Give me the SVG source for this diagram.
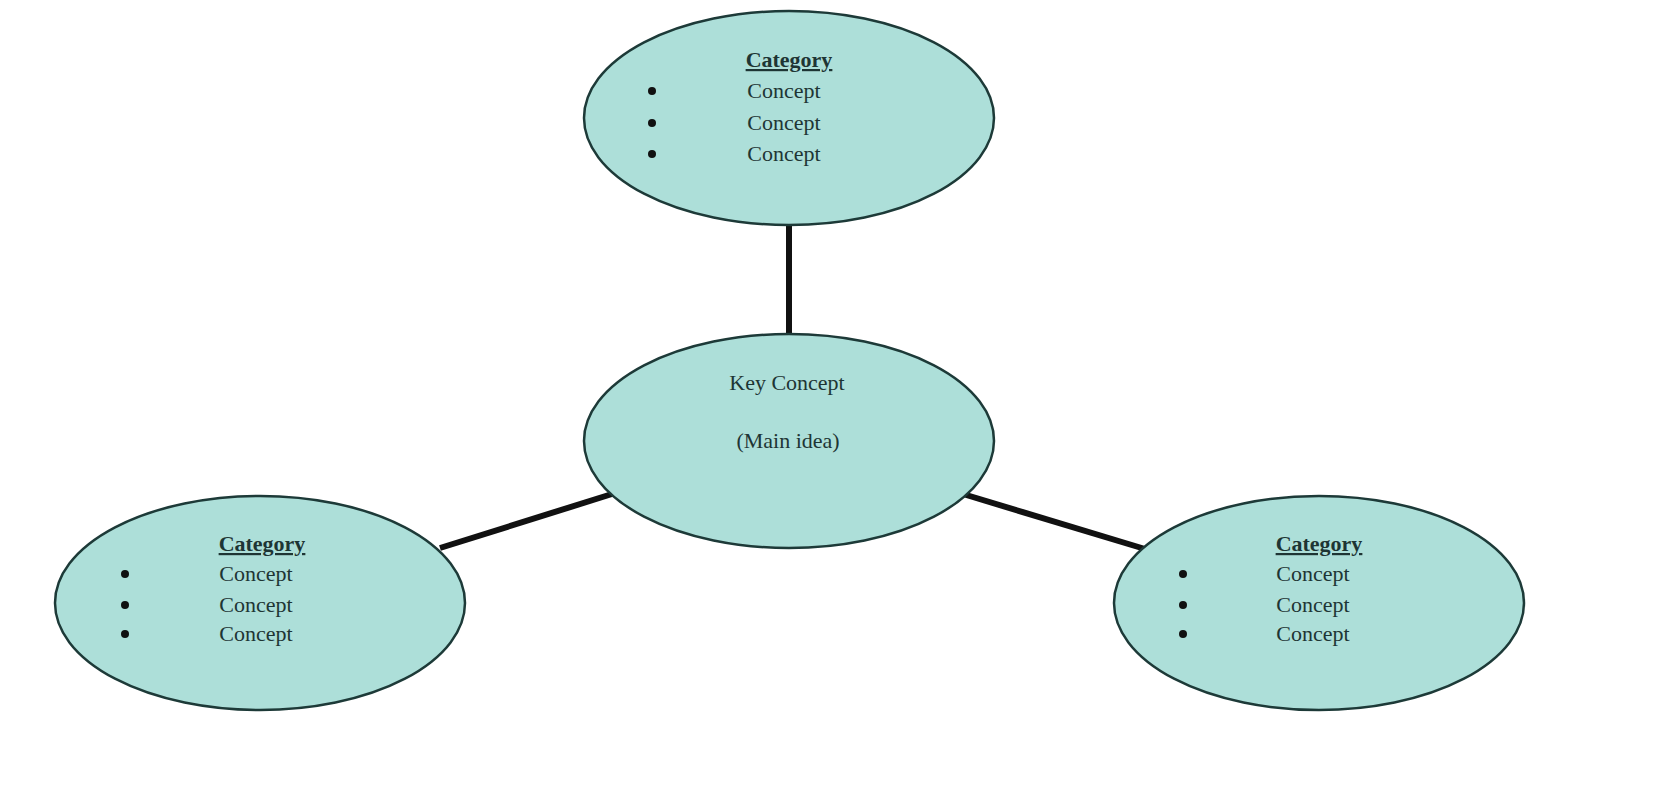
<svg xmlns="http://www.w3.org/2000/svg" width="1676" height="785" viewBox="0 0 1676 785">
<style>
.n{fill:#addfd9;stroke:#1d3a38;stroke-width:2.5}
text{font-family:"Liberation Serif",serif;font-size:22px;fill:#1e3534;text-anchor:middle}
.h{font-weight:bold;text-decoration:underline}
.d{fill:#111}
.c{stroke:#111;stroke-width:6;fill:none}
</style>
<rect width="1676" height="785" fill="#fff"/>
<g id="connectors">
<line class="c" x1="789" y1="222" x2="789" y2="336"/>
<line class="c" x1="440" y1="548" x2="612" y2="494"/>
<line class="c" x1="963" y1="494" x2="1145" y2="549"/>
</g>
<g id="top">
<ellipse class="n" cx="789" cy="118" rx="205" ry="107"/>
<text class="h" x="789" y="67">Category</text>
<circle class="d" cx="652" cy="91" r="4"/><text x="784" y="98">Concept</text>
<circle class="d" cx="652" cy="123" r="4"/><text x="784" y="130">Concept</text>
<circle class="d" cx="652" cy="154" r="4"/><text x="784" y="161">Concept</text>
</g>
<g id="center">
<ellipse class="n" cx="789" cy="441" rx="205" ry="107"/>
<text x="787" y="390">Key Concept</text>
<text x="788" y="448">(Main idea)</text>
</g>
<g id="left">
<ellipse class="n" cx="260" cy="603" rx="205" ry="107"/>
<text class="h" x="262" y="551">Category</text>
<circle class="d" cx="125" cy="574" r="4"/><text x="256" y="581">Concept</text>
<circle class="d" cx="125" cy="605" r="4"/><text x="256" y="612">Concept</text>
<circle class="d" cx="125" cy="634" r="4"/><text x="256" y="641">Concept</text>
</g>
<g id="right">
<ellipse class="n" cx="1319" cy="603" rx="205" ry="107"/>
<text class="h" x="1319" y="551">Category</text>
<circle class="d" cx="1183" cy="574" r="4"/><text x="1313" y="581">Concept</text>
<circle class="d" cx="1183" cy="605" r="4"/><text x="1313" y="612">Concept</text>
<circle class="d" cx="1183" cy="634" r="4"/><text x="1313" y="641">Concept</text>
</g>
</svg>
